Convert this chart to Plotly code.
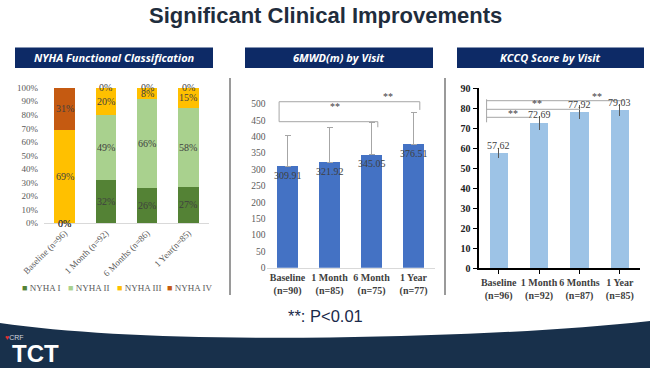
import plotly.graph_objects as go

W, H = 650, 368


def px(x):
    return x / W


def py(y):
    return 1 - y / H


# ---------------- data ----------------
nyha_cats = ["Baseline (n=96)", "1 Month (n=92)", "6 Months (n=86)", "1 Year(n=85)"]
nyha_names = ["NYHA I", "NYHA II", "NYHA III", "NYHA IV"]
nyha_i = [0, 32, 26, 27]
nyha_ii = [0, 49, 66, 58]
nyha_iii = [69, 20, 8, 15]
nyha_iv = [31, 0, 0, 0]

mwd_cats = ["Baseline<br>(n=90)", "1 Month<br>(n=85)", "6 Month<br>(n=75)", "1 Year<br>(n=77)"]
mwd_mean = [309.91, 321.92, 345.05, 376.51]
mwd_sd = [93, 107, 97, 99]

kccq_cats = ["Baseline<br>(n=96)", "1 Month<br>(n=92)", "6 Months<br>(n=87)", "1 Year<br>(n=85)"]
kccq_mean = [57.62, 72.69, 77.92, 79.03]
kccq_err = [2.5, 3.5, 3.5, 3.0]

nyha_colors = ["#548235", "#a9d18e", "#ffc000", "#c55a11"]
SERIF = "Liberation Serif"
SANS = "Liberation Sans"

fig = go.Figure()
ann = []
shapes = []


def note(x, y, text, font, xref="paper", yref="paper", xanchor="center", yshift=0):
    if xref == "paper":
        x = px(x)
    if yref == "paper":
        y = py(y)
    ann.append(dict(x=x, y=y, xref=xref, yref=yref, text=text, showarrow=False,
                    xanchor=xanchor, yanchor="middle", yshift=yshift, font=font))


# ---------------- NYHA stacked 100% ----------------
series = [nyha_i, nyha_ii, nyha_iii, nyha_iv]
totals = [sum(s[k] for s in series) for k in range(len(nyha_cats))]
bottoms = [0.0] * len(nyha_cats)
lab_font = dict(family=SERIF, size=10, color="#3f3f3f")
for name, vals, col in zip(nyha_names, series, nyha_colors):
    norm = [v / t * 100 for v, t in zip(vals, totals)]
    fig.add_trace(go.Bar(x=nyha_cats, y=norm, name=name, marker_color=col, width=0.5,
                         xaxis="x", yaxis="y", showlegend=False, hoverinfo="skip"))
    for k, (v, n) in enumerate(zip(vals, norm)):
        note(k, bottoms[k] + n / 2, f"{v}%", lab_font, xref="x", yref="y")
        bottoms[k] += n

# manual legend
leg_x = [20, 66, 115, 165]
for lx, name, col in zip(leg_x, nyha_names, nyha_colors):
    note(lx, 288, f"<span style='color:{col}'>■</span> {name}",
         dict(family=SERIF, size=9, color="#595959"), xanchor="left")

# ---------------- 6MWD ----------------
fig.add_trace(go.Bar(x=mwd_cats, y=mwd_mean, width=0.52, marker_color="#4472c4",
                     xaxis="x2", yaxis="y2", showlegend=False, hoverinfo="skip",
                     error_y=dict(type="data", array=mwd_sd, arrayminus=[0] * len(mwd_sd),
                                  symmetric=False, color="#a6a6a6", thickness=1, width=3)))
val_font = dict(family=SERIF, size=10, color="#404040")
for k, v in enumerate(mwd_mean):
    note(k, v, f"{v:.2f}", val_font, xref="x2", yref="y2", yshift=-9)

br = "#a6a6a6"
mwd_brackets = [(-0.2, 2.15, 446, 429, 1.13, 491), (-0.2, 3.15, 507, 482, 2.4, 522)]
for x0, x1, yl, yd, tx, ty in mwd_brackets:
    shapes.append(dict(type="line", xref="x2", yref="y2", x0=x0, x1=x1, y0=yl, y1=yl,
                       line=dict(color=br, width=1)))
    shapes.append(dict(type="line", xref="x2", yref="y2", x0=x1, x1=x1, y0=yl, y1=yd,
                       line=dict(color=br, width=1)))
    note(tx, ty, "**", val_font, xref="x2", yref="y2")
shapes.append(dict(type="line", xref="x2", yref="y2", x0=-0.2, x1=-0.2, y0=446, y1=507,
                   line=dict(color=br, width=1)))

# ---------------- KCCQ ----------------
fig.add_trace(go.Bar(x=kccq_cats, y=kccq_mean, width=0.45, marker_color="#9dc3e6",
                     xaxis="x3", yaxis="y3", showlegend=False, hoverinfo="skip",
                     error_y=dict(type="data", array=kccq_err, color="#595959",
                                  thickness=1, width=0)))
for k, v in enumerate(kccq_mean):
    note(k, v, f"{v:.2f}", val_font, xref="x3", yref="y3", yshift=8)

kccq_brackets = [(0.83, 75.5, 0.36, 77.6), (2.02, 79.5, 0.95, 82.3), (3.1, 83.8, 2.43, 85.9)]
for x1, yl, tx, ty in kccq_brackets:
    shapes.append(dict(type="line", xref="x3", yref="y3", x0=-0.3, x1=x1, y0=yl, y1=yl,
                       line=dict(color=br, width=1)))
    note(tx, ty, "**", val_font, xref="x3", yref="y3")
shapes.append(dict(type="line", xref="x3", yref="y3", x0=-0.3, x1=-0.3, y0=73, y1=84.5,
                   line=dict(color=br, width=1)))

# ---------------- decorations ----------------
hdr = "#0d2a66"
headers = [(15, 213, "NYHA Functional Classification"),
           (245, 433, "6MWD(m) by Visit"),
           (457, 644, "KCCQ Score by Visit")]
for x0, x1, t in headers:
    shapes.append(dict(type="rect", xref="paper", yref="paper", x0=px(x0), x1=px(x1),
                       y0=py(68), y1=py(47.5), fillcolor=hdr, line=dict(width=0)))
    note((x0 + x1) / 2, 57.7, f"<b><i>{t}</i></b>",
         dict(family="Open Sans", size=11, color="white"))

for sx in (230, 445):
    shapes.append(dict(type="line", xref="paper", yref="paper", x0=px(sx), x1=px(sx),
                       y0=py(295), y1=py(78), line=dict(color="#9a9a9a", width=2)))

# footer band
path = (f"M {px(0)},{py(323)} Q {px(120)},{py(340)} {px(330)},{py(337.5)} "
        f"Q {px(520)},{py(335)} {px(650)},{py(321)} L {px(650)},{py(368)} L {px(0)},{py(368)} Z")
shapes.append(dict(type="path", xref="paper", yref="paper", path=path,
                   fillcolor="#18304b", line=dict(width=0)))

note(326, 15.5, "<b>Significant Clinical Improvements</b>",
     dict(family=SANS, size=22, color="#1f2d3d"))
note(326, 316, "**: P<0.01", dict(family=SANS, size=16.5, color="#1b2a4a"))
note(3, 337, "<span style='color:#e03030'>♥</span>CRF",
     dict(family=SANS, size=7, color="#d0d6de"), xanchor="left")
note(10, 353, "<b>TCT</b>", dict(family=SANS, size=24, color="white"), xanchor="left")

fig.update_layout(
    template="none",
    width=W, height=H, margin=dict(l=0, r=0, t=0, b=0, autoexpand=False),
    paper_bgcolor="white", plot_bgcolor="rgba(0,0,0,0)",
    barmode="stack", showlegend=False,
    annotations=ann, shapes=shapes,
    xaxis=dict(domain=[px(44), px(209)], range=[-0.5, 3.5], anchor="y", tickangle=-45,
               tickfont=dict(family=SERIF, size=9, color="#595959"), showline=True,
               linecolor="#d9d9d9", ticks="", showgrid=False, automargin=False),
    yaxis=dict(domain=[py(223.3), py(87.7)], range=[0, 100], anchor="x",
               tickvals=list(range(0, 101, 10)), ticktext=[f"{v}%" for v in range(0, 101, 10)],
               tickfont=dict(family=SERIF, size=9, color="#595959"), showgrid=False,
               zeroline=False, showline=False, automargin=False, ticklabelstandoff=5),
    xaxis2=dict(domain=[px(266.5), px(434.5)], range=[-0.5, 3.5], anchor="y2", tickangle=0,
                tickfont=dict(family=SERIF, size=10, color="#404040", weight="bold"),
                showline=True, linecolor="#d9d9d9", ticks="", showgrid=False, automargin=False),
    yaxis2=dict(domain=[py(267.7), py(94.2)], range=[0, 530], anchor="x2",
                tickvals=list(range(0, 501, 50)),
                tickfont=dict(family=SERIF, size=9.5, color="#595959"), showgrid=False,
                zeroline=False, showline=False, automargin=False),
    xaxis3=dict(domain=[px(478.5), px(640)], range=[-0.5, 3.5], anchor="y3", tickangle=0,
                tickfont=dict(family=SERIF, size=10, color="#404040", weight="bold"),
                showline=True, linecolor="black", linewidth=2, ticks="outside", ticklen=4,
                tickcolor="black", showgrid=False, automargin=False),
    yaxis3=dict(domain=[py(268.3), py(88.3)], range=[0, 90], anchor="x3", dtick=10,
                tickfont=dict(family=SERIF, size=10, color="#222222", weight="bold"),
                showline=True, linecolor="black", linewidth=2, ticks="outside", ticklen=4,
                tickcolor="black", showgrid=False, zeroline=False, automargin=False),
)

fig.write_html("out.html", post_script="document.body.style.margin='0';",
               config={"displayModeBar": False})
